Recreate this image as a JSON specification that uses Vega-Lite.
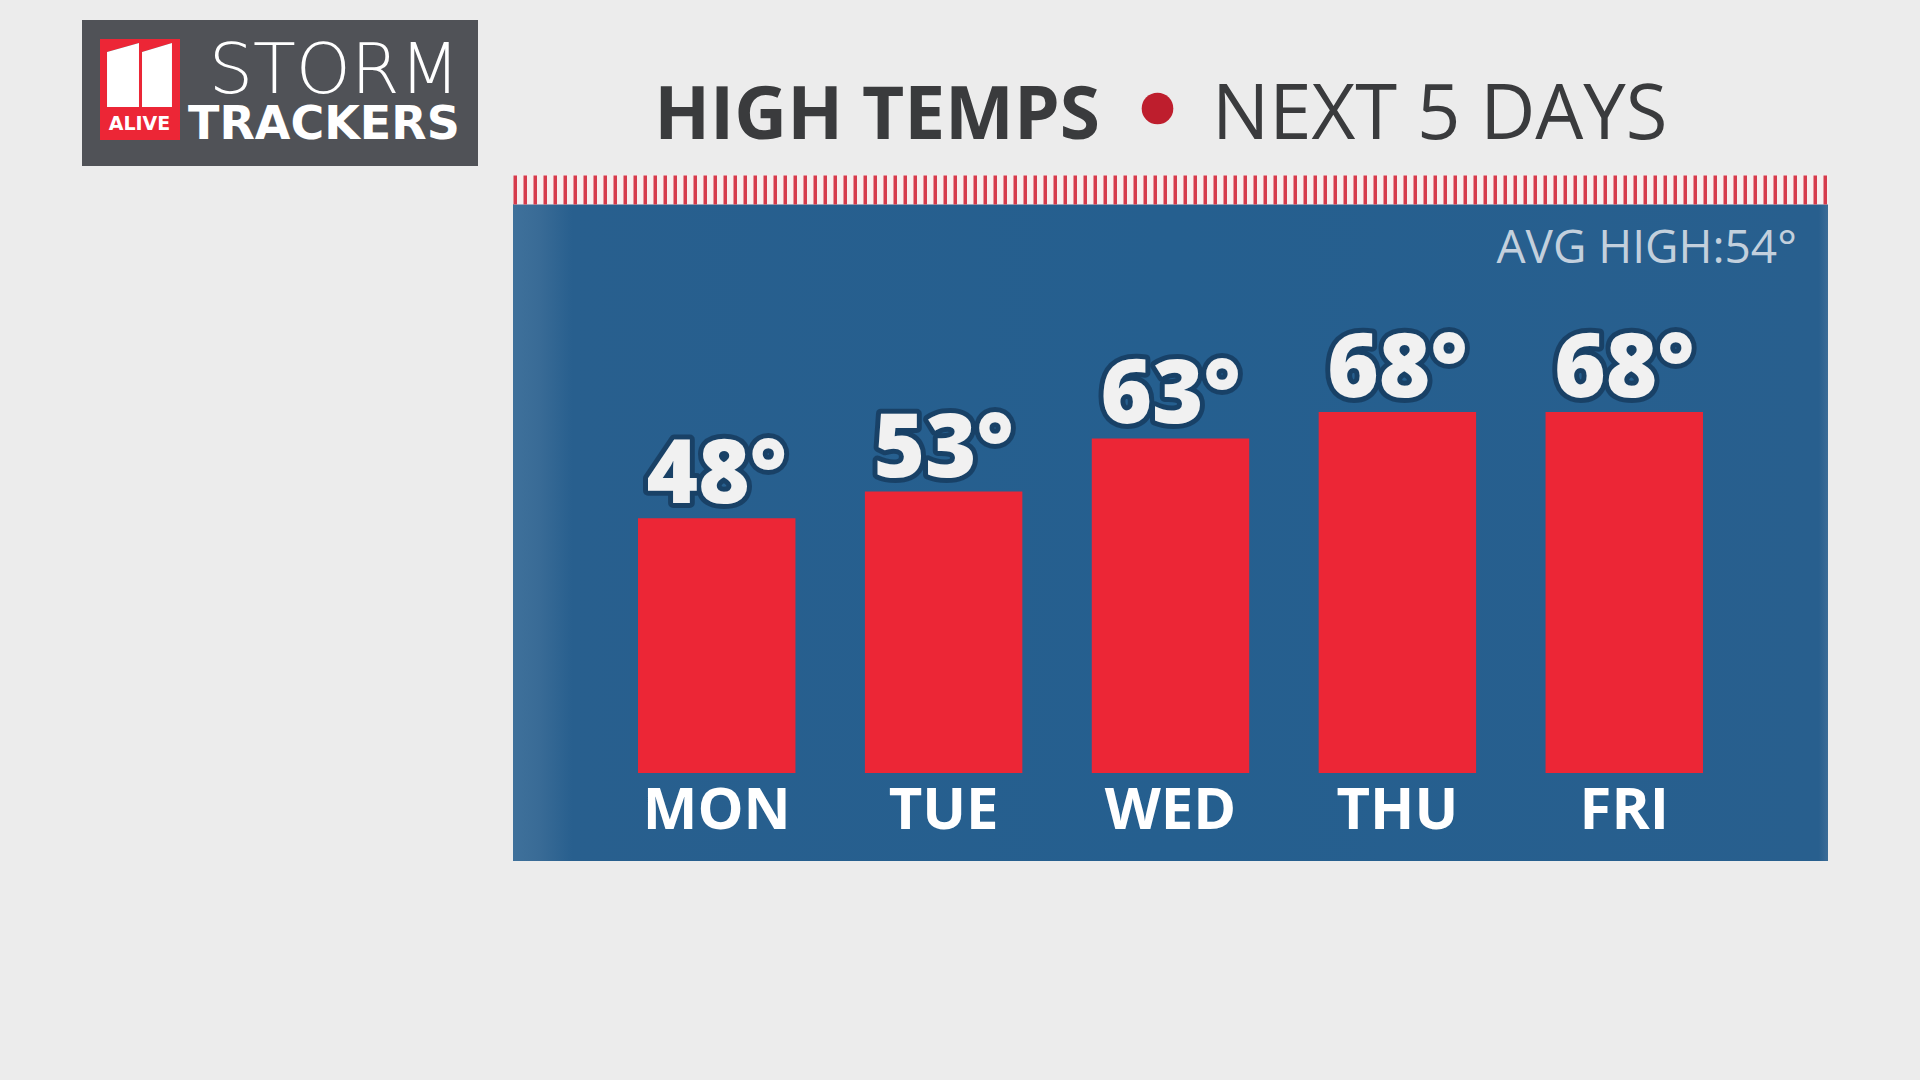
{
"$schema":"https://vega.github.io/schema/vega-lite/v6.json",
"width":1315,"height":657,
"autosize":{"type":"none"},
"padding":{"left":513,"top":204,"right":92,"bottom":219},
"background":"#ececec",
"config":{"view":{"stroke":null,"fill":{"gradient":"linear","x1":0,"y1":0,"x2":1,"y2":0,"stops":[{"offset":0,"color":"#3f719b"},{"offset":0.02,"color":"#396b96"},{"offset":0.045,"color":"#285f8e"},{"offset":0.5,"color":"#255f8f"},{"offset":0.993,"color":"#285f8e"},{"offset":1,"color":"#3b6c97"}]}},"font":"Open Sans"},
"data":{"values":[{"day":"MON","temp":48},{"day":"TUE","temp":53},{"day":"WED","temp":63},{"day":"THU","temp":68},{"day":"FRI","temp":68}]},
"resolve":{"axis":{"x":"independent"}},
"layer":[
{"mark":{"type":"bar"},
 "encoding":{
  "x":{"field":"day","type":"nominal","sort":null,"scale":{"domain":["MON","TUE","WED","THU","FRI"],"paddingInner":0.306,"paddingOuter":0.551},
   "axis":{"orient":"top","labels":false,"ticks":false,"title":null,"grid":false,"domain":true,"domainColor":"#f7edee","domainWidth":29,"domainCap":"butt","offset":14.5,"zindex":0}},
  "y":{"field":"temp","type":"quantitative","scale":{"domain":[-16.57,107.16],"nice":false,"zero":false},"axis":null},
  "y2":{"datum":0},
  "color":{"datum":"TRACKERS","type":"nominal","scale":{"range":["#ec2636"]},
   "legend":{"title":"STORM","orient":"none","legendX":-431,"legendY":-184,"fillColor":"#505257","padding":18,"titleOrient":"top","titleAnchor":"end","titleBaseline":"top","titleFont":"DejaVu Sans","titleFontWeight":200,"titleFontSize":70,"titleColor":"#ffffff","titlePadding":-69,"titleLimit":500,"symbolType":"M-0.625,-1L0.625,-1L0.625,0.578L-0.625,0.578Z M-0.516,-0.797L-0.516,0.0625L-0.016,0.0625L-0.016,-0.9375Z M0.031,-0.797L0.031,0.0625L0.5,0.0625L0.5,-0.9375Z","symbolSize":16384,"symbolStrokeWidth":0,"symbolOffset":-24,"symbolOpacity":1,"labelFont":"DejaVu Sans","labelFontWeight":"bold","labelFontSize":46,"labelColor":"#ffffff","labelBaseline":"top","labelOffset":-16,"labelLimit":500}}
 }},
{"mark":{"type":"text","text":{"expr":"datum.temp + '°'"},"font":"Open Sans","fontWeight":800,"fontSize":88,"align":"center","baseline":"alphabetic","dy":-15,"fill":"#0c2440","stroke":"#0c2440","strokeWidth":10,"strokeJoin":"round","opacity":0.5},
 "encoding":{"x":{"field":"day","type":"nominal",
   "axis":{"orient":"top","labels":false,"ticks":false,"title":null,"grid":false,"domain":true,"domainColor":"#d63a4b","domainWidth":29,"domainDash":[3.5,6.5],"domainCap":"butt","offset":14.5,"zindex":1}},
  "y":{"field":"temp","type":"quantitative"}}},
{"mark":{"type":"text","text":{"expr":"datum.temp + '°'"},"font":"Open Sans","fontWeight":800,"fontSize":88,"align":"center","baseline":"alphabetic","dy":-15,"fill":"#f1f1f1"},
 "encoding":{"x":{"field":"day","type":"nominal","axis":null},"y":{"field":"temp","type":"quantitative"}}},
{"mark":{"type":"text","font":"Open Sans","fontWeight":700,"fontSize":58,"fill":"#ffffff","align":"center","baseline":"alphabetic"},
 "encoding":{"x":{"field":"day","type":"nominal","axis":null},"y":{"datum":-10.55,"type":"quantitative"},"text":{"field":"day"},
  "opacity":{"datum":"ALIVE","type":"nominal","scale":{"range":[1,1]},
   "legend":{"title":null,"orient":"none","legendX":-445,"legendY":-161,"padding":0,"symbolType":"M-0.458,-0.875L-0.014,-1L-0.014,-0.111L-0.458,-0.111Z M0.028,-0.875L0.444,-1L0.444,-0.111L0.028,-0.111Z","symbolSize":20736,"symbolFillColor":"#ffffff","symbolStrokeWidth":0,"symbolOffset":0,"symbolOpacity":1,"labelFont":"DejaVu Sans","labelFontWeight":"bold","labelFontSize":19,"labelColor":"#ffffff","labelBaseline":"top","labelAlign":"center","labelOffset":-72.5}}}},
{"data":{"values":[{"label":"AVG HIGH","avg":54}]},
 "mark":{"type":"text","text":{"expr":"datum.label + ':' + datum.avg + '°'"},"font":"Open Sans","fontWeight":400,"fontSize":46,"fill":"#c3d0dd","align":"right","baseline":"alphabetic","dx":172.6},
 "encoding":{"x":{"datum":"FRI","type":"nominal","axis":null},"y":{"datum":96,"type":"quantitative"}}},
{"data":{"values":[{"title":"HIGH TEMPS"}]},
 "mark":{"type":"text","font":"Open Sans","fontWeight":700,"fontSize":73,"fill":"#3a3b3d","align":"right","baseline":"alphabetic","dx":-70.5},
 "encoding":{"x":{"datum":"WED","type":"nominal","axis":null},"y":{"datum":119.4,"type":"quantitative"},"text":{"field":"title"}}},
{"data":{"values":[{"marker":"dot"}]},
 "mark":{"type":"point","filled":true,"fill":"#be1e2d","opacity":1,"strokeWidth":0,"size":1000,"shape":"circle","xOffset":-13},
 "encoding":{"x":{"datum":"WED","type":"nominal","axis":null},"y":{"datum":125.14,"type":"quantitative"}}},
{"data":{"values":[{"subtitle":"NEXT 5 DAYS"}]},
 "mark":{"type":"text","font":"Open Sans","fontWeight":400,"fontSize":76,"fill":"#3a3b3d","align":"left","baseline":"alphabetic","dx":41.5},
 "encoding":{"x":{"datum":"WED","type":"nominal","axis":null},"y":{"datum":119.4,"type":"quantitative"},"text":{"field":"subtitle"}}}
]
}
